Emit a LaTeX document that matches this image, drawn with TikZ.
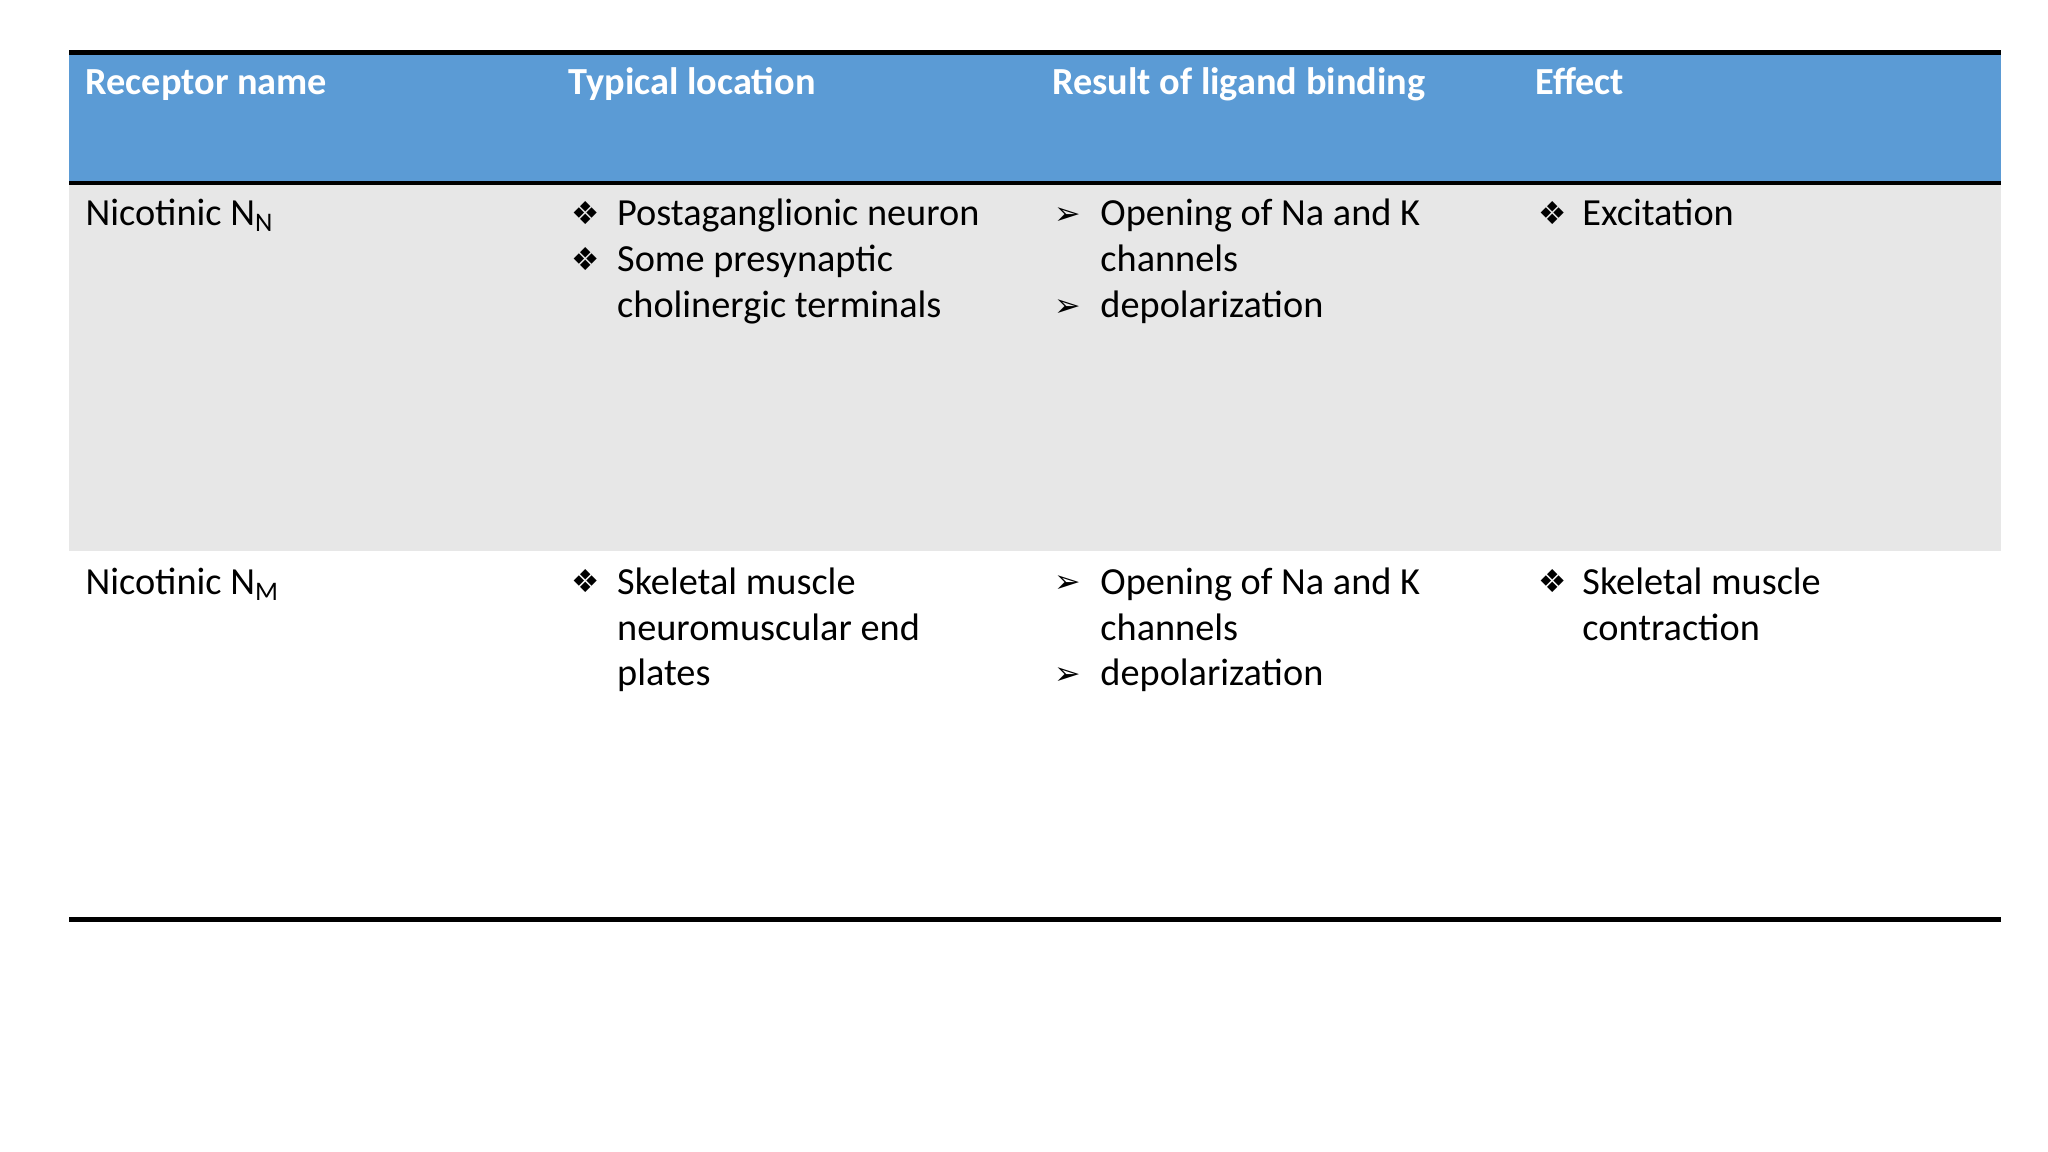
\documentclass[tikz,border=0pt]{standalone}
\usepackage{fontspec}
\setmainfont{Carlito}
\newfontfamily\djvfont{DejaVu Sans}
\definecolor{hdr}{HTML}{5B9BD5}
\definecolor{rowg}{HTML}{E7E7E7}
\begin{document}
\begin{tikzpicture}[x=0.01306cm,y=-0.01306cm,
  t/.style={anchor=base west,inner sep=0pt,font=\fontsize{10.9}{13}\selectfont},
  h/.style={t,text=white,font=\fontsize{10.9}{13}\selectfont\bfseries},
  dia/.style={anchor=base west,inner sep=0pt,font=\djvfont\fontsize{9}{13}\selectfont}]
\useasboundingbox (0,0) rectangle (1568,882);
\fill[hdr] (53,40) rectangle (1532,140);
\fill[rowg] (53,140) rectangle (1532,422);
\draw[line width=1.5pt] (53,40) -- (1532,40);
\draw[line width=1.2pt] (53,140) -- (1532,140);
\draw[line width=1.5pt] (53,704) -- (1532,704);
\node[h] (h1) at (65,72) {Receptor name};
\node[h] (h2) at (435,72) {Typical location};
\node[h] (h3) at (805,72) {Result of ligand binding};
\node[h] (h4) at (1175,72) {Effect};
% row 1
\node[t] (a1) at (65,173) {Nicotinic N\textsubscript{N}};
\node[dia] (b1) at (437,172) {❖};
\node[t] (b1t) at (472,173) {Postaganglionic neuron};
\node[dia] (b2) at (437,207) {❖};
\node[t] (b2t) at (472,208) {Some presynaptic};
\node[t] (b2u) at (472,243) {cholinergic terminals};
\node[dia] (c1) at (807,172) {➢};
\node[t] (c1t) at (842,173) {Opening of Na and K};
\node[t] (c1u) at (842,208) {channels};
\node[dia] (c2) at (807,242) {➢};
\node[t] (c2t) at (842,243) {depolarization};
\node[dia] (d1) at (1177,172) {❖};
\node[t] (d1t) at (1211,173) {Excitation};
% row 2
\node[t] (a2) at (65,455) {Nicotinic N\textsubscript{M}};
\node[dia] (e1) at (437,454) {❖};
\node[t] (e1t) at (472,455) {Skeletal muscle};
\node[t] (e1u) at (472,490) {neuromuscular end};
\node[t] (e1v) at (472,525) {plates};
\node[dia] (f1) at (807,454) {➢};
\node[t] (f1t) at (842,455) {Opening of Na and K};
\node[t] (f1u) at (842,490) {channels};
\node[dia] (f2) at (807,524) {➢};
\node[t] (f2t) at (842,525) {depolarization};
\node[dia] (g1) at (1177,454) {❖};
\node[t] (g1t) at (1211,455) {Skeletal muscle};
\node[t] (g1u) at (1211,490) {contraction};
\end{tikzpicture}
\end{document}
